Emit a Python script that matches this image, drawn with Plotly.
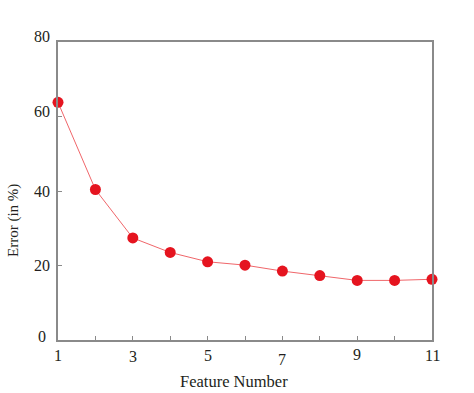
import plotly.graph_objects as go

feature_number = [1, 2, 3, 4, 5, 6, 7, 8, 9, 10, 11]
error_pct = [63.8, 40.4, 27.4, 23.5, 21.0, 20.1, 18.5, 17.3, 16.0, 16.0, 16.3]

x_tick_vals = [1, 3, 5, 7, 9, 11]
x_tick_labels = ["1", "3", "5", "7", "9", "11"]
y_tick_vals = [0, 20, 40, 60, 80]
y_tick_labels = ["0", "20", "40", "60", "80"]

# per-label pixel nudges reproducing the reference's label placement
x_label_dy = [0, -1, 0, -4, 1, 0]
y_label_dy = [4, 0, 0, 5, 6]

FONT = "Liberation Serif, Times New Roman, serif"
AXIS_COLOR = "#8a8a8a"
TEXT_COLOR = "#231f20"

PLOT_W, PLOT_H = 374, 298

fig = go.Figure()
fig.add_trace(go.Scatter(
    x=feature_number, y=error_pct, mode="lines+markers",
    line=dict(color="#f0666a", width=1),
    marker=dict(color="#e5141f", size=11),
    cliponaxis=False, showlegend=False,
))

annotations = []
for v, t, dy in zip(x_tick_vals, x_tick_labels, x_label_dy):
    annotations.append(dict(x=v, y=0, xref="x", yref="paper", text=t,
                            showarrow=False, xanchor="center", yanchor="middle",
                            yshift=-15 + dy, font=dict(size=16)))
for v, t, dy in zip(y_tick_vals, y_tick_labels, y_label_dy):
    annotations.append(dict(x=0, y=v, xref="paper", yref="y", text=t,
                            showarrow=False, xanchor="center", yanchor="middle",
                            xshift=-16, yshift=dy, font=dict(size=16)))
annotations.append(dict(x=(233.5 - 58) / PLOT_W, y=-53 / PLOT_H, xref="paper", yref="paper",
                        text="Feature Number", showarrow=False, xanchor="center",
                        yanchor="bottom", font=dict(size=16.5)))
annotations.append(dict(x=(13 - 58) / PLOT_W, y=(340 - 221) / PLOT_H, xref="paper", yref="paper",
                        text="Error (in %)", showarrow=False, textangle=-90,
                        xanchor="center", yanchor="middle", font=dict(size=15)))

fig.update_layout(
    width=474, height=393,
    margin=dict(l=58, r=42, t=42, b=53, pad=0),
    paper_bgcolor="white", plot_bgcolor="white",
    font=dict(family=FONT, size=16, color=TEXT_COLOR),
    annotations=annotations,
)
fig.update_xaxes(
    range=[1, 11], tickmode="array", tickvals=feature_number,
    showticklabels=False, automargin=False,
    ticks="inside", ticklen=4, tickcolor=AXIS_COLOR,
    showline=True, linecolor=AXIS_COLOR, linewidth=1.5, mirror=True,
    showgrid=False, zeroline=False,
)
fig.update_yaxes(
    range=[0, 80], tickmode="array", tickvals=y_tick_vals,
    showticklabels=False, automargin=False,
    ticks="inside", ticklen=4, tickcolor=AXIS_COLOR,
    showline=True, linecolor=AXIS_COLOR, linewidth=1.5, mirror=True,
    showgrid=False, zeroline=False,
)

fig.write_html(
    "out.html",
    config={"displayModeBar": False},
    post_script="document.body.style.margin='0';document.body.style.overflow='hidden';",
)
